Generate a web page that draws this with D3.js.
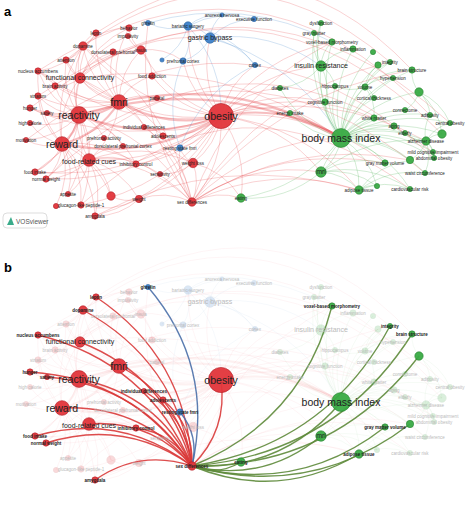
<!DOCTYPE html>
<html><head><meta charset="utf-8">
<script src="https://cdn.jsdelivr.net/npm/d3@7"></script>
<style>body{margin:0;background:#fff}svg{font-family:"Liberation Sans",Arial,sans-serif}</style>
</head><body><svg id="chart" width="474" height="514"></svg>
<script>
// nodes: id, label, cluster, x, y (map coordinates), weight
var nodes = [
 ["ob","obesity","r",221,116,12],["fmri","fmri","r",119,102,7],["rea","reactivity","r",79,115,8],
 ["rew","reward","r",62,144,7],["cue","food-related cues","r",89,160,6],["fc","functional connectivity","r",80,78,5],
 ["dop","dopamine","r",83,46,4],["dlp","dorsolateral prefrontal","r",113,52,3],["ins","insula","r",141,50,4],
 ["beh","behavior","r",129,28,3],["imp","impulsivity","r",128,36,2.5],["lep","leptin","r",96,33,3],
 ["att","attention","r",66,60,3],["nac","nucleus accumbens","r",38,71,3],["ba","brain activity","r",55,86,3],
 ["str","striatum","r",38,96,3],["hun","hunger","r",30,108,3],["sat","satiety","r",47,113,2.5],
 ["hc","high calorie","r",30,123,2.5],["mot","motivation","r",26,140,2.5],["fi","food intake","r",35,172,3],
 ["nw","normal weight","r",46,179,3],["app","appetite","r",68,194,2.5],["s1","","r",56,206,2.5],
 ["glp","glucagon-like peptide-1","r",81,205,3],["amy","amygdala","r",95,216,3],["n1","","r",111,196,4],
 ["wt","weight","r",139,199,3.5],["sex","sex differences","r",192,202,4],["wl","weight loss","r",193,163,4.5],
 ["inh","inhibitory control","r",136,164,3],["pf","prefrontal activity","r",104,138,2.5],["dlpc","dorsolateral prefrontal cortex","r",123,146,2.5],
 ["ind","individual differences","r",144,127,2.5],["ado","adolescents","r",163,136,3],["sen","sensitivity","r",160,174,2.5],
 ["fa","food addiction","r",152,76,3],["par","parietal","r",157,98,2.5],
 ["bar","bariatric surgery","b",188,26,4],["gb","gastric bypass","b",210,38,5],["ghr","ghrelin","b",148,23,2.5],
 ["pfc","prefrontal cortex","b",183,61,3],["b1","","b",162,60,2],["rs","resting state fmri","b",180,148,3],
 ["ctx","cortex","b",255,65,2.5],["ef","executive function","b",254,19,2.5],["an","anorexia nervosa","b",222,15,2],
 ["bmi","body mass index","g",341,138,9],["mri","mri","g",321,172,5],["ag","eating","g",241,198,4],
 ["vbm","voxel-based morphometry","g",332,42,3],["gm","gray matter","g",314,33,2.5],["dys","dysfunction","g",321,23,2.5],
 ["inf","inflammation","g",353,49,3],["g1","","g",373,52,2.5],["ir","insulin resistance","g",321,66,5],
 ["dia","diabetes","g",280,88,2.5],["cog","cognitive function","g",325,102,3],["vol","volume","g",365,87,3],
 ["hip","hippocampus","g",335,86,2.5],["ct","cortical thickness","g",374,98,2.5],["g2","","g",419,92,4],
 ["bs","brain structure","g",412,70,3],["int","integrity","g",390,62,2.5],["hyp","hypertension","g",393,78,2.5],
 ["g3","","g",378,65,3],["con","connectome","g",405,110,2.5],["adi","adiposity","g",430,115,2.5],
 ["co","central obesity","g",450,123,2.5],["g4","","g",442,134,4],["alz","alzheimer disease","g",426,141,4],
 ["wm","white matter","g",374,118,3],["agi","aging","g",394,126,3],["eld","elderly","g",405,133,2.5],
 ["mci","mild cognitive impairment","g",433,152,2.5],["abd","abdominal obesity","g",434,158,2.5],
 ["gmv","gray matter volume","g",385,163,3],["g5","","g",410,160,3.5],["wc","waist circumference","g",425,173,2.5],
 ["adt","adipose tissue","g",359,190,4],["cvr","cardiovascular risk","g",410,189,2.5],["g6","","g",377,186,2.5],
 ["ei","energy intake","g",290,113,2.5]
];
// adjacency: first id linked to every following id
var links = [
 "ob fmri rea rew cue fc dop ins fa wl sex ado ind rs bmi mri ag ir cog vbm gb bar pfc ctx wm gmv adt alz dia ei nac hun fi nw amy inh glp wt",
 "fmri rea rew cue fc dop dlp ins fa par ind ado att ba str hun sat lep beh bmi nac",
 "rea rew cue fc dop att nac ba str hun sat hc mot fi nw inh dlpc pf glp app sex bmi",
 "rew cue fc dop nac str mot hc fi nw app s1 glp amy n1 inh sex",
 "cue fc inh dlpc wt sen nw fi amy n1 wl sex app",
 "fc dop att ba dlp ins imp beh lep nac sex gb bmi",
 "dop lep beh att nac sex", "ins beh imp dlp fa pfc", "wl ado sen rs sex ag", "wt sex n1 amy glp",
 "ind sex ado", "sex rs ghr vbm int bs mri ag gmv g5 adt bmi",
 "bar gb ghr pfc b1 ctx ef an ob", "gb pfc ctx ef an ir bmi", "rs pfc ctx",
 "bmi mri ag vbm gm dys inf g1 ir dia cog vol hip ct g2 bs int hyp g3 con adi co g4 alz wm agi eld mci abd gmv g5 wc adt cvr g6 ei",
 "mri ag gmv adt g6 cvr alz wm", "ir dys gm vbm inf hip dia cog", "vol hip ct wm g3 int bs hyp",
 "alz mci abd g4 adi co agi eld g5 wc", "g2 bs adi co g4 con", "adt g6 cvr wc g5",
 "hun co", "mot abd", "fi wc", "nac adi", "glp cvr", "amy adt", "lep bs", "att int", "ghr vbm", "str g4", "nw mci"
];
var sexHighlight = ["lep","nac","dop","fc","fmri","hun","sat","rea","rew","ind","ado","cue","inh","fi","nw","amy","ob","rs","ghr","vbm","int","bs","bmi","mri","ag","gmv","g5","adt","g2"];

var colors = {r:"#e2353b", g:"#3aab45", b:"#3c80c9"};
var dark = {r:"#b0141c", g:"#1f7f2a", b:"#235e9e"};
var svg = d3.select("#chart");
var byId = {};
nodes.forEach(function(d){ byId[d[0]] = {id:d[0],label:d[1],c:d[2],x:d[3],y:d[4],w:d[5]}; });
var edges = [];
links.forEach(function(s){
  var p = s.split(" ");
  p.slice(1).forEach(function(t){ edges.push([byId[p[0]], byId[t]]); });
});

function curve(x, y, a, b, k) {
  var x1=x(a.x), y1=y(a.y), x2=x(b.x), y2=y(b.y);
  var mx=(x1+x2)/2, my=(y1+y2)/2, dx=x2-x1, dy=y2-y1;
  if (k == null) k = Math.abs(dx) > 300 ? 0.42 : 0.2;
  return "M"+x1+","+y1+"Q"+(mx+dy*k)+","+(my-dx*k)+" "+x2+","+y2;
}

function panel(y0, h, highlight) {
  var x = d3.scaleLinear().domain([0,474]).range([0,474]);
  var y = d3.scaleLinear().domain([0,250]).range([y0, y0+h]);
  var g = svg.append("g");
  var hl = highlight ? new Set(highlight) : null;
  g.selectAll("path.e").data(edges).enter().append("path")
    .attr("d", function(d){ return curve(x,y,d[0],d[1]); })
    .attr("fill","none")
    .attr("stroke", function(d){ return colors[d[0].c]; })
    .attr("stroke-width", function(d){ return d[0].w>6 && d[1].w>6 ? 2.2 : 0.7; })
    .attr("stroke-opacity", hl ? 0.07 : 0.32);
  if (hl) {
    var hs = highlight.map(function(id){ return [byId.sex, byId[id]]; });
    g.selectAll("path.h").data(hs).enter().append("path")
      .attr("d", function(d){ return curve(x,y,d[1],d[0],0.25); })
      .attr("fill","none")
      .attr("stroke", function(d){ return d[1].c=="r" ? "#d93a3a" : d[1].c=="b" ? "#4a6fa8" : "#5d8a3a"; })
      .attr("stroke-width",1.4).attr("stroke-opacity",0.9);
  }
  var on = function(d){ return !hl || hl.has(d.id) || d.id=="sex"; };
  var ns = Object.values(byId);
  g.selectAll("circle").data(ns).enter().append("circle")
    .attr("cx", function(d){ return x(d.x); }).attr("cy", function(d){ return y(d.y); })
    .attr("r", function(d){ return d.w*1.05; })
    .attr("fill", function(d){ return colors[d.c]; })
    .attr("stroke", function(d){ return dark[d.c]; }).attr("stroke-width",0.6)
    .attr("opacity", function(d){ return on(d) ? 0.95 : 0.18; });
  g.selectAll("text").data(ns.filter(function(d){ return d.label; })).enter().append("text")
    .attr("x", function(d){ return x(d.x); }).attr("y", function(d){ return y(d.y)+ (d.w>5?4:2); })
    .attr("text-anchor","middle")
    .attr("font-size", function(d){ return d.w>=7 ? 10.5 : d.w>=5 ? 7 : 4.5; })
    .attr("fill", function(d){ return on(d) ? "#222" : "#bbb"; })
    .attr("font-weight", function(d){ return hl && on(d) && d.w<5 ? "bold" : "normal"; })
    .text(function(d){ return d.label; });
}

panel(0, 250, null);
panel(264, 250, sexHighlight);

svg.append("text").attr("x",4).attr("y",16).attr("font-size",13).attr("font-weight","bold").text("a");
svg.append("text").attr("x",4).attr("y",272).attr("font-size",13).attr("font-weight","bold").text("b");
var logo = svg.append("g").attr("transform","translate(3,213)");
logo.append("rect").attr("width",44).attr("height",15).attr("rx",4).attr("fill","#fff").attr("stroke","#ddd");
logo.append("path").attr("d","M4,12 L8,4 L11,12 Z").attr("fill","#3aab8a");
logo.append("text").attr("x",13).attr("y",10.5).attr("font-size",6.5).attr("fill","#555").text("VOSviewer");
</script></body></html>
